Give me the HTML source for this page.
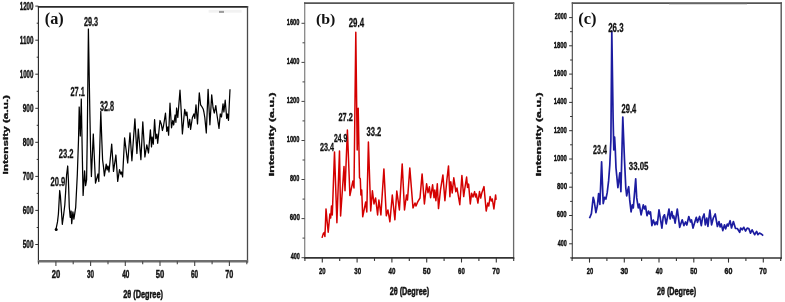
<!DOCTYPE html>
<html><head><meta charset="utf-8"><title>XRD patterns</title><style>
html,body{margin:0;padding:0;background:#fff;}
svg{display:block;}
</style></head><body>
<svg width="785" height="302" viewBox="0 0 785 302">
<rect width="785" height="302" fill="#fff"/>
<line x1="38.4" y1="5.95" x2="38.4" y2="262.55" stroke="#222" stroke-width="1.1"/>
<line x1="37.85" y1="6.8" x2="248.15" y2="6.8" stroke="#2a2a2a" stroke-width="1.7"/>
<line x1="247.5" y1="5.95" x2="247.5" y2="262.55" stroke="#4a4a4a" stroke-width="1.3"/>
<line x1="37.85" y1="261.3" x2="248.15" y2="261.3" stroke="#6e6e6e" stroke-width="2.5"/>
<line x1="38.5" y1="261.3" x2="38.5" y2="264.3" stroke="#444" stroke-width="1.1"/>
<line x1="55.9" y1="261.3" x2="55.9" y2="265.90000000000003" stroke="#444" stroke-width="1.1"/>
<line x1="73.2" y1="261.3" x2="73.2" y2="264.3" stroke="#444" stroke-width="1.1"/>
<line x1="90.6" y1="261.3" x2="90.6" y2="265.90000000000003" stroke="#444" stroke-width="1.1"/>
<line x1="108.0" y1="261.3" x2="108.0" y2="264.3" stroke="#444" stroke-width="1.1"/>
<line x1="125.3" y1="261.3" x2="125.3" y2="265.90000000000003" stroke="#444" stroke-width="1.1"/>
<line x1="142.7" y1="261.3" x2="142.7" y2="264.3" stroke="#444" stroke-width="1.1"/>
<line x1="160.0" y1="261.3" x2="160.0" y2="265.90000000000003" stroke="#444" stroke-width="1.1"/>
<line x1="177.3" y1="261.3" x2="177.3" y2="264.3" stroke="#444" stroke-width="1.1"/>
<line x1="194.7" y1="261.3" x2="194.7" y2="265.90000000000003" stroke="#444" stroke-width="1.1"/>
<line x1="212.1" y1="261.3" x2="212.1" y2="264.3" stroke="#444" stroke-width="1.1"/>
<line x1="229.4" y1="261.3" x2="229.4" y2="265.90000000000003" stroke="#444" stroke-width="1.1"/>
<line x1="246.8" y1="261.3" x2="246.8" y2="264.3" stroke="#444" stroke-width="1.1"/>
<line x1="36.699999999999996" y1="227.5" x2="38.4" y2="227.5" stroke="#333" stroke-width="1"/>
<line x1="36.699999999999996" y1="193.4" x2="38.4" y2="193.4" stroke="#333" stroke-width="1"/>
<line x1="36.699999999999996" y1="159.4" x2="38.4" y2="159.4" stroke="#333" stroke-width="1"/>
<line x1="36.699999999999996" y1="125.3" x2="38.4" y2="125.3" stroke="#333" stroke-width="1"/>
<line x1="36.699999999999996" y1="91.3" x2="38.4" y2="91.3" stroke="#333" stroke-width="1"/>
<line x1="36.699999999999996" y1="57.2" x2="38.4" y2="57.2" stroke="#333" stroke-width="1"/>
<line x1="36.699999999999996" y1="23.2" x2="38.4" y2="23.2" stroke="#333" stroke-width="1"/>
<line x1="35.3" y1="244.5" x2="38.4" y2="244.5" stroke="#333" stroke-width="1"/>
<line x1="35.3" y1="210.4" x2="38.4" y2="210.4" stroke="#333" stroke-width="1"/>
<line x1="35.3" y1="176.4" x2="38.4" y2="176.4" stroke="#333" stroke-width="1"/>
<line x1="35.3" y1="142.3" x2="38.4" y2="142.3" stroke="#333" stroke-width="1"/>
<line x1="35.3" y1="108.3" x2="38.4" y2="108.3" stroke="#333" stroke-width="1"/>
<line x1="35.3" y1="74.2" x2="38.4" y2="74.2" stroke="#333" stroke-width="1"/>
<line x1="35.3" y1="40.2" x2="38.4" y2="40.2" stroke="#333" stroke-width="1"/>
<line x1="35.3" y1="6.1" x2="38.4" y2="6.1" stroke="#333" stroke-width="1"/>
<line x1="304.7" y1="2.2" x2="304.7" y2="258.7" stroke="#888" stroke-width="1.3"/>
<line x1="304.05" y1="3.15" x2="514.25" y2="3.15" stroke="#555" stroke-width="1.9"/>
<line x1="513.6" y1="2.2" x2="513.6" y2="258.7" stroke="#6a6a6a" stroke-width="1.3"/>
<line x1="304.05" y1="257.9" x2="514.25" y2="257.9" stroke="#333" stroke-width="1.6"/>
<line x1="304.9" y1="257.9" x2="304.9" y2="260.9" stroke="#333" stroke-width="1.1"/>
<line x1="322.3" y1="257.9" x2="322.3" y2="262.5" stroke="#333" stroke-width="1.1"/>
<line x1="339.7" y1="257.9" x2="339.7" y2="260.9" stroke="#333" stroke-width="1.1"/>
<line x1="357.1" y1="257.9" x2="357.1" y2="262.5" stroke="#333" stroke-width="1.1"/>
<line x1="374.5" y1="257.9" x2="374.5" y2="260.9" stroke="#333" stroke-width="1.1"/>
<line x1="391.9" y1="257.9" x2="391.9" y2="262.5" stroke="#333" stroke-width="1.1"/>
<line x1="409.3" y1="257.9" x2="409.3" y2="260.9" stroke="#333" stroke-width="1.1"/>
<line x1="426.7" y1="257.9" x2="426.7" y2="262.5" stroke="#333" stroke-width="1.1"/>
<line x1="444.1" y1="257.9" x2="444.1" y2="260.9" stroke="#333" stroke-width="1.1"/>
<line x1="461.5" y1="257.9" x2="461.5" y2="262.5" stroke="#333" stroke-width="1.1"/>
<line x1="478.9" y1="257.9" x2="478.9" y2="260.9" stroke="#333" stroke-width="1.1"/>
<line x1="496.3" y1="257.9" x2="496.3" y2="262.5" stroke="#333" stroke-width="1.1"/>
<line x1="513.7" y1="257.9" x2="513.7" y2="260.9" stroke="#333" stroke-width="1.1"/>
<line x1="302.5" y1="238.1" x2="304.7" y2="238.1" stroke="#444" stroke-width="1"/>
<line x1="302.5" y1="199.1" x2="304.7" y2="199.1" stroke="#444" stroke-width="1"/>
<line x1="302.5" y1="160.0" x2="304.7" y2="160.0" stroke="#444" stroke-width="1"/>
<line x1="302.5" y1="120.9" x2="304.7" y2="120.9" stroke="#444" stroke-width="1"/>
<line x1="302.5" y1="81.9" x2="304.7" y2="81.9" stroke="#444" stroke-width="1"/>
<line x1="302.5" y1="42.8" x2="304.7" y2="42.8" stroke="#444" stroke-width="1"/>
<line x1="301.5" y1="257.7" x2="304.7" y2="257.7" stroke="#444" stroke-width="1"/>
<line x1="301.5" y1="218.6" x2="304.7" y2="218.6" stroke="#444" stroke-width="1"/>
<line x1="301.5" y1="179.5" x2="304.7" y2="179.5" stroke="#444" stroke-width="1"/>
<line x1="301.5" y1="140.5" x2="304.7" y2="140.5" stroke="#444" stroke-width="1"/>
<line x1="301.5" y1="101.4" x2="304.7" y2="101.4" stroke="#444" stroke-width="1"/>
<line x1="301.5" y1="62.4" x2="304.7" y2="62.4" stroke="#444" stroke-width="1"/>
<line x1="301.5" y1="23.3" x2="304.7" y2="23.3" stroke="#444" stroke-width="1"/>
<line x1="572.3" y1="2.1500000000000004" x2="572.3" y2="258.85" stroke="#444" stroke-width="1.1"/>
<line x1="571.75" y1="3.1" x2="781.9000000000001" y2="3.1" stroke="#555" stroke-width="1.9"/>
<line x1="781.2" y1="2.1500000000000004" x2="781.2" y2="258.85" stroke="#555" stroke-width="1.4"/>
<line x1="571.75" y1="258.0" x2="781.9000000000001" y2="258.0" stroke="#333" stroke-width="1.7"/>
<line x1="669" y1="4.1" x2="747" y2="4.1" stroke="#999" stroke-width="0.6"/>
<line x1="572.1" y1="258.0" x2="572.1" y2="261.0" stroke="#333" stroke-width="1.1"/>
<line x1="589.5" y1="258.0" x2="589.5" y2="262.6" stroke="#333" stroke-width="1.1"/>
<line x1="606.9" y1="258.0" x2="606.9" y2="261.0" stroke="#333" stroke-width="1.1"/>
<line x1="624.3" y1="258.0" x2="624.3" y2="262.6" stroke="#333" stroke-width="1.1"/>
<line x1="641.6" y1="258.0" x2="641.6" y2="261.0" stroke="#333" stroke-width="1.1"/>
<line x1="659.0" y1="258.0" x2="659.0" y2="262.6" stroke="#333" stroke-width="1.1"/>
<line x1="676.4" y1="258.0" x2="676.4" y2="261.0" stroke="#333" stroke-width="1.1"/>
<line x1="693.8" y1="258.0" x2="693.8" y2="262.6" stroke="#333" stroke-width="1.1"/>
<line x1="711.2" y1="258.0" x2="711.2" y2="261.0" stroke="#333" stroke-width="1.1"/>
<line x1="728.5" y1="258.0" x2="728.5" y2="262.6" stroke="#333" stroke-width="1.1"/>
<line x1="745.9" y1="258.0" x2="745.9" y2="261.0" stroke="#333" stroke-width="1.1"/>
<line x1="763.3" y1="258.0" x2="763.3" y2="262.6" stroke="#333" stroke-width="1.1"/>
<line x1="780.7" y1="258.0" x2="780.7" y2="261.0" stroke="#333" stroke-width="1.1"/>
<line x1="570.0999999999999" y1="257.9" x2="572.3" y2="257.9" stroke="#333" stroke-width="1"/>
<line x1="570.0999999999999" y1="229.7" x2="572.3" y2="229.7" stroke="#333" stroke-width="1"/>
<line x1="570.0999999999999" y1="201.4" x2="572.3" y2="201.4" stroke="#333" stroke-width="1"/>
<line x1="570.0999999999999" y1="173.1" x2="572.3" y2="173.1" stroke="#333" stroke-width="1"/>
<line x1="570.0999999999999" y1="144.8" x2="572.3" y2="144.8" stroke="#333" stroke-width="1"/>
<line x1="570.0999999999999" y1="116.5" x2="572.3" y2="116.5" stroke="#333" stroke-width="1"/>
<line x1="570.0999999999999" y1="88.3" x2="572.3" y2="88.3" stroke="#333" stroke-width="1"/>
<line x1="570.0999999999999" y1="60.0" x2="572.3" y2="60.0" stroke="#333" stroke-width="1"/>
<line x1="570.0999999999999" y1="31.7" x2="572.3" y2="31.7" stroke="#333" stroke-width="1"/>
<line x1="569.0999999999999" y1="243.8" x2="572.3" y2="243.8" stroke="#333" stroke-width="1"/>
<line x1="569.0999999999999" y1="215.5" x2="572.3" y2="215.5" stroke="#333" stroke-width="1"/>
<line x1="569.0999999999999" y1="187.2" x2="572.3" y2="187.2" stroke="#333" stroke-width="1"/>
<line x1="569.0999999999999" y1="159.0" x2="572.3" y2="159.0" stroke="#333" stroke-width="1"/>
<line x1="569.0999999999999" y1="130.7" x2="572.3" y2="130.7" stroke="#333" stroke-width="1"/>
<line x1="569.0999999999999" y1="102.4" x2="572.3" y2="102.4" stroke="#333" stroke-width="1"/>
<line x1="569.0999999999999" y1="74.1" x2="572.3" y2="74.1" stroke="#333" stroke-width="1"/>
<line x1="569.0999999999999" y1="45.8" x2="572.3" y2="45.8" stroke="#333" stroke-width="1"/>
<line x1="569.0999999999999" y1="17.6" x2="572.3" y2="17.6" stroke="#333" stroke-width="1"/>
<rect x="208.6" y="9.9" width="33" height="2.8" fill="#f2f2f2"/>
<rect x="219" y="10.9" width="5" height="2" fill="#9c9c9c"/>
<polyline points="56.0,229.2 57.5,221.9 58.4,214.0 59.7,190.5 60.4,196.0 61.1,206.0 62.3,224.3 63.6,215.0 64.8,205.0 65.7,190.9 66.6,175.0 67.7,166.0 68.4,180.0 69.3,207.3 70.2,217.3 71.1,211.0 71.7,223.7 72.9,211.9 73.9,219.2 75.7,207.3 77.3,175.0 78.5,140.0 79.2,107.0 80.3,136.0 81.3,99.0 82.2,150.0 83.1,195.5 84.6,170.8 85.6,185.6 86.6,180.0 87.3,135.0 88.4,29.0 89.8,110.0 90.6,150.0 91.4,176.5 93.3,134.0 95.5,183.1 98.0,174.0 98.8,181.5 100.8,111.5 101.8,140.0 102.6,160.0 103.5,166.9 104.4,176.0 106.2,164.1 107.1,170.0 108.0,166.0 109.0,172.0 111.7,144.1 113.5,171.4 115.9,155.0 117.7,181.4 119.5,169.6 120.8,174.2 121.6,172.0 122.6,176.9 124.6,137.8 127.7,163.0 130.0,132.9 131.9,160.8 134.9,118.9 136.9,153.5 138.3,129.0 140.9,159.7 142.8,121.9 144.9,157.0 146.8,144.8 148.5,153.0 150.4,129.8 151.5,146.9 152.2,137.0 153.3,144.2 154.6,119.6 155.8,138.7 156.9,134.2 157.7,143.3 160.0,120.5 161.3,124.1 162.4,130.5 163.5,126.0 165.5,113.2 166.8,131.4 167.9,126.9 168.6,135.1 170.0,103.2 171.5,127.8 172.8,120.5 173.7,125.0 175.1,115.0 175.9,122.3 176.6,108.0 177.8,117.5 180.0,90.2 181.1,109.3 182.4,133.9 184.7,109.3 186.0,115.7 186.9,112.0 188.4,127.5 189.7,119.3 190.6,129.4 192.4,117.5 193.9,113.9 194.8,118.4 196.0,104.8 197.5,123.9 199.3,92.9 200.6,104.8 201.5,106.0 203.3,109.3 203.9,112.0 204.8,117.5 206.3,133.0 208.1,89.3 209.0,107.5 209.9,124.8 211.7,94.8 213.0,107.5 214.3,113.0 215.8,105.7 216.7,113.0 219.0,128.4 220.3,113.9 221.5,117.0 223.0,103.9 223.9,112.0 225.2,100.2 226.7,118.4 227.5,114.0 228.5,120.3 230.0,89.3" fill="none" stroke="#000" stroke-width="1.25" stroke-linejoin="round"/>
<circle cx="56.2" cy="229.6" r="1.5" fill="#000"/>
<polyline points="322.0,237.9 323.3,233.6 324.3,232.5 324.9,236.5 325.4,225.0 326.0,208.9 327.2,222.0 328.2,232.3 329.9,213.9 330.7,218.0 331.5,205.9 332.3,214.9 334.5,151.9 336.9,222.8 339.5,150.9 340.6,216.0 344.0,166.5 345.0,190.8 347.4,130.0 349.9,195.5 352.9,181.0 354.0,188.0 355.8,32.2 357.2,150.0 358.2,108.2 359.5,177.8 360.3,178.8 360.9,195.0 361.7,190.0 362.7,216.8 365.7,202.0 366.8,212.0 368.4,142.0 370.7,210.9 372.4,190.8 374.0,203.9 375.6,198.0 377.6,214.9 378.9,200.0 380.9,214.9 383.9,168.9 386.3,215.8 387.9,209.9 389.9,221.8 392.3,195.0 394.9,219.8 396.8,191.0 399.4,209.9 402.2,163.9 404.5,210.0 406.5,195.0 407.5,200.0 409.8,167.9 413.0,208.0 415.0,203.0 416.0,206.0 417.7,201.9 420.0,198.0 422.1,173.9 424.4,204.0 426.6,183.8 428.0,192.7 429.4,186.8 430.6,197.7 432.6,184.8 434.0,197.7 434.8,190.0 435.9,200.7 437.3,183.8 438.5,208.6 440.5,189.8 442.9,174.9 444.9,200.7 446.9,179.8 448.5,165.9 449.9,196.7 450.8,181.8 452.2,193.0 453.8,177.8 455.8,191.7 457.0,188.0 459.8,204.7 461.9,175.5 463.7,196.6 464.6,190.0 466.6,177.0 467.5,187.4 468.6,184.1 470.3,204.0 471.6,193.2 473.0,197.0 474.6,191.6 475.5,197.0 476.3,194.0 477.9,203.1 479.5,191.6 480.7,198.0 481.8,193.0 484.0,186.6 486.2,211.0 487.8,203.1 488.8,206.0 490.1,196.5 491.4,201.0 492.3,199.0 493.9,208.9 495.6,194.9 496.1,199.8" fill="none" stroke="#d40000" stroke-width="1.5" stroke-linejoin="round"/>
<polyline points="589.5,218.2 591.4,213.6 593.2,197.3 594.2,201.0 595.9,212.7 597.4,205.5 598.6,193.6 599.9,204.5 601.6,161.9 603.2,203.6 604.6,197.3 605.9,199.0 607.2,192.7 608.6,180.9 609.8,165.0 610.9,140.0 611.8,31.0 613.1,118.0 613.8,150.0 614.6,137.0 615.3,150.0 616.0,168.0 617.9,187.7 619.8,172.8 620.9,191.7 622.8,117.0 624.5,160.0 625.8,188.0 626.7,195.9 627.8,190.0 628.7,186.7 629.7,199.9 631.1,211.8 632.3,204.9 633.3,208.0 635.7,178.8 636.7,197.9 638.3,207.8 639.3,204.0 641.1,214.8 643.3,204.9 644.5,209.0 645.5,206.0 647.0,215.7 648.5,211.0 649.5,214.0 650.5,212.0 651.9,225.6 653.3,220.0 654.9,224.8 656.2,222.0 657.3,224.5 659.0,209.9 661.9,228.1 663.2,217.0 664.5,214.8 666.2,223.9 669.0,209.0 670.1,219.0 671.8,211.5 673.0,218.0 673.8,216.0 675.1,223.1 677.3,209.0 679.7,227.3 682.2,219.8 683.9,225.6 685.5,222.0 686.8,225.0 688.8,216.5 690.5,222.0 691.5,220.0 693.0,228.1 696.3,217.3 697.5,222.3 699.6,216.5 701.3,225.6 702.5,218.0 704.1,214.0 705.3,224.8 706.8,218.0 707.9,226.5 709.9,210.2 711.6,224.8 713.3,218.0 715.2,214.0 717.4,226.5 719.0,221.5 720.2,227.0 721.3,224.0 722.8,230.6 724.5,224.8 725.6,228.9 727.3,224.0 728.2,226.0 730.1,220.7 731.5,228.0 733.4,221.5 735.5,228.5 737.3,228.5 739.7,232.3 740.7,228.0 742.2,229.8 743.8,227.3 745.5,231.0 747.2,228.1 748.8,228.5 750.5,233.1 752.1,229.8 754.6,234.7 756.6,231.4 757.9,234.7 759.5,233.0 761.2,233.9 763.2,235.6" fill="none" stroke="#1c1ca0" stroke-width="1.7" stroke-linejoin="round"/>
<text x="44.72" y="24.00" textLength="18.96" lengthAdjust="spacingAndGlyphs" style="font-family:'Liberation Serif',serif;font-weight:bold;font-size:15.67px;fill:#111">(a)</text>
<text x="315.94" y="24.00" textLength="19.42" lengthAdjust="spacingAndGlyphs" style="font-family:'Liberation Serif',serif;font-weight:bold;font-size:13.60px;fill:#111">(b)</text>
<text x="578.30" y="24.00" textLength="18.29" lengthAdjust="spacingAndGlyphs" style="font-family:'Liberation Serif',serif;font-weight:bold;font-size:15.90px;fill:#111">(c)</text>
<text x="84.00" y="26.00" textLength="14.17" lengthAdjust="spacingAndGlyphs" style="font-family:'Liberation Sans',sans-serif;font-weight:bold;font-size:12.78px;fill:#111;stroke:#111;stroke-width:0.3px">29.3</text>
<text x="70.50" y="96.00" textLength="14.32" lengthAdjust="spacingAndGlyphs" style="font-family:'Liberation Sans',sans-serif;font-weight:bold;font-size:12.00px;fill:#111;stroke:#111;stroke-width:0.3px">27.1</text>
<text x="100.00" y="111.00" textLength="14.17" lengthAdjust="spacingAndGlyphs" style="font-family:'Liberation Sans',sans-serif;font-weight:bold;font-size:13.85px;fill:#111;stroke:#111;stroke-width:0.3px">32.8</text>
<text x="58.74" y="158.00" textLength="14.75" lengthAdjust="spacingAndGlyphs" style="font-family:'Liberation Sans',sans-serif;font-weight:bold;font-size:12.04px;fill:#111;stroke:#111;stroke-width:0.3px">23.2</text>
<text x="50.52" y="186.00" textLength="14.75" lengthAdjust="spacingAndGlyphs" style="font-family:'Liberation Sans',sans-serif;font-weight:bold;font-size:12.28px;fill:#111;stroke:#111;stroke-width:0.3px">20.9</text>
<text x="348.74" y="27.00" textLength="15.32" lengthAdjust="spacingAndGlyphs" style="font-family:'Liberation Sans',sans-serif;font-weight:bold;font-size:12.28px;fill:#111;stroke:#111;stroke-width:0.3px">29.4</text>
<text x="338.52" y="121.00" textLength="14.32" lengthAdjust="spacingAndGlyphs" style="font-family:'Liberation Sans',sans-serif;font-weight:bold;font-size:11.28px;fill:#111;stroke:#111;stroke-width:0.3px">27.2</text>
<text x="334.02" y="142.00" textLength="13.16" lengthAdjust="spacingAndGlyphs" style="font-family:'Liberation Sans',sans-serif;font-weight:bold;font-size:10.11px;fill:#111;stroke:#111;stroke-width:0.3px">24.9</text>
<text x="320.02" y="151.00" textLength="14.07" lengthAdjust="spacingAndGlyphs" style="font-family:'Liberation Sans',sans-serif;font-weight:bold;font-size:11.07px;fill:#111;stroke:#111;stroke-width:0.3px">23.4</text>
<text x="366.52" y="136.00" textLength="14.81" lengthAdjust="spacingAndGlyphs" style="font-family:'Liberation Sans',sans-serif;font-weight:bold;font-size:11.85px;fill:#111;stroke:#111;stroke-width:0.3px">33.2</text>
<text x="608.24" y="32.00" textLength="15.27" lengthAdjust="spacingAndGlyphs" style="font-family:'Liberation Sans',sans-serif;font-weight:bold;font-size:11.97px;fill:#111;stroke:#111;stroke-width:0.3px">26.3</text>
<text x="621.52" y="113.00" textLength="14.66" lengthAdjust="spacingAndGlyphs" style="font-family:'Liberation Sans',sans-serif;font-weight:bold;font-size:12.04px;fill:#111;stroke:#111;stroke-width:0.3px">29.4</text>
<text x="593.00" y="154.00" textLength="13.91" lengthAdjust="spacingAndGlyphs" style="font-family:'Liberation Sans',sans-serif;font-weight:bold;font-size:12.04px;fill:#111;stroke:#111;stroke-width:0.3px">23.4</text>
<text x="628.76" y="170.00" textLength="19.72" lengthAdjust="spacingAndGlyphs" style="font-family:'Liberation Sans',sans-serif;font-weight:bold;font-size:11.07px;fill:#111;stroke:#111;stroke-width:0.3px">33.05</text>
<text x="123.14" y="298.00" textLength="39.84" lengthAdjust="spacingAndGlyphs" style="font-family:'Liberation Sans',sans-serif;font-weight:bold;font-size:11.60px;fill:#111;stroke:#111;stroke-width:0.5px">2θ (Degree)</text>
<text x="389.64" y="295.00" textLength="39.54" lengthAdjust="spacingAndGlyphs" style="font-family:'Liberation Sans',sans-serif;font-weight:bold;font-size:11.60px;fill:#111;stroke:#111;stroke-width:0.5px">2θ (Degree)</text>
<text x="657.00" y="295.00" textLength="39.24" lengthAdjust="spacingAndGlyphs" style="font-family:'Liberation Sans',sans-serif;font-weight:bold;font-size:11.60px;fill:#111;stroke:#111;stroke-width:0.5px">2θ (Degree)</text>
<text x="22.78" y="248.00" textLength="10.70" lengthAdjust="spacingAndGlyphs" style="font-family:'Liberation Sans',sans-serif;font-weight:bold;font-size:10.54px;fill:#111;stroke:#111;stroke-width:0.45px">500</text>
<text x="22.78" y="214.00" textLength="10.70" lengthAdjust="spacingAndGlyphs" style="font-family:'Liberation Sans',sans-serif;font-weight:bold;font-size:10.54px;fill:#111;stroke:#111;stroke-width:0.45px">600</text>
<text x="22.78" y="180.00" textLength="10.70" lengthAdjust="spacingAndGlyphs" style="font-family:'Liberation Sans',sans-serif;font-weight:bold;font-size:10.54px;fill:#111;stroke:#111;stroke-width:0.45px">700</text>
<text x="22.78" y="146.00" textLength="10.70" lengthAdjust="spacingAndGlyphs" style="font-family:'Liberation Sans',sans-serif;font-weight:bold;font-size:10.54px;fill:#111;stroke:#111;stroke-width:0.45px">800</text>
<text x="22.78" y="112.00" textLength="10.70" lengthAdjust="spacingAndGlyphs" style="font-family:'Liberation Sans',sans-serif;font-weight:bold;font-size:10.54px;fill:#111;stroke:#111;stroke-width:0.45px">900</text>
<text x="19.78" y="78.00" textLength="13.62" lengthAdjust="spacingAndGlyphs" style="font-family:'Liberation Sans',sans-serif;font-weight:bold;font-size:10.54px;fill:#111;stroke:#111;stroke-width:0.45px">1000</text>
<text x="19.78" y="44.00" textLength="13.62" lengthAdjust="spacingAndGlyphs" style="font-family:'Liberation Sans',sans-serif;font-weight:bold;font-size:10.54px;fill:#111;stroke:#111;stroke-width:0.45px">1100</text>
<text x="19.78" y="10.00" textLength="13.62" lengthAdjust="spacingAndGlyphs" style="font-family:'Liberation Sans',sans-serif;font-weight:bold;font-size:10.54px;fill:#111;stroke:#111;stroke-width:0.45px">1200</text>
<text x="290.72" y="259.00" textLength="9.08" lengthAdjust="spacingAndGlyphs" style="font-family:'Liberation Sans',sans-serif;font-weight:bold;font-size:9.34px;fill:#111;stroke:#111;stroke-width:0.45px">400</text>
<text x="289.72" y="220.00" textLength="10.21" lengthAdjust="spacingAndGlyphs" style="font-family:'Liberation Sans',sans-serif;font-weight:bold;font-size:9.34px;fill:#111;stroke:#111;stroke-width:0.45px">600</text>
<text x="290.02" y="181.00" textLength="9.19" lengthAdjust="spacingAndGlyphs" style="font-family:'Liberation Sans',sans-serif;font-weight:bold;font-size:9.34px;fill:#111;stroke:#111;stroke-width:0.45px">800</text>
<text x="286.76" y="142.00" textLength="12.51" lengthAdjust="spacingAndGlyphs" style="font-family:'Liberation Sans',sans-serif;font-weight:bold;font-size:9.34px;fill:#111;stroke:#111;stroke-width:0.45px">1000</text>
<text x="286.76" y="103.00" textLength="12.51" lengthAdjust="spacingAndGlyphs" style="font-family:'Liberation Sans',sans-serif;font-weight:bold;font-size:9.34px;fill:#111;stroke:#111;stroke-width:0.45px">1200</text>
<text x="286.76" y="64.00" textLength="12.51" lengthAdjust="spacingAndGlyphs" style="font-family:'Liberation Sans',sans-serif;font-weight:bold;font-size:9.34px;fill:#111;stroke:#111;stroke-width:0.45px">1400</text>
<text x="286.76" y="25.00" textLength="12.51" lengthAdjust="spacingAndGlyphs" style="font-family:'Liberation Sans',sans-serif;font-weight:bold;font-size:9.34px;fill:#111;stroke:#111;stroke-width:0.45px">1600</text>
<text x="557.72" y="246.00" textLength="8.96" lengthAdjust="spacingAndGlyphs" style="font-family:'Liberation Sans',sans-serif;font-weight:bold;font-size:9.34px;fill:#111;stroke:#111;stroke-width:0.45px">400</text>
<text x="556.72" y="217.00" textLength="9.96" lengthAdjust="spacingAndGlyphs" style="font-family:'Liberation Sans',sans-serif;font-weight:bold;font-size:9.34px;fill:#111;stroke:#111;stroke-width:0.45px">600</text>
<text x="557.02" y="189.00" textLength="10.08" lengthAdjust="spacingAndGlyphs" style="font-family:'Liberation Sans',sans-serif;font-weight:bold;font-size:9.34px;fill:#111;stroke:#111;stroke-width:0.45px">800</text>
<text x="553.74" y="161.00" textLength="13.13" lengthAdjust="spacingAndGlyphs" style="font-family:'Liberation Sans',sans-serif;font-weight:bold;font-size:9.34px;fill:#111;stroke:#111;stroke-width:0.45px">1000</text>
<text x="553.74" y="133.00" textLength="13.13" lengthAdjust="spacingAndGlyphs" style="font-family:'Liberation Sans',sans-serif;font-weight:bold;font-size:9.34px;fill:#111;stroke:#111;stroke-width:0.45px">1200</text>
<text x="553.74" y="104.00" textLength="13.13" lengthAdjust="spacingAndGlyphs" style="font-family:'Liberation Sans',sans-serif;font-weight:bold;font-size:9.34px;fill:#111;stroke:#111;stroke-width:0.45px">1400</text>
<text x="553.74" y="76.00" textLength="13.13" lengthAdjust="spacingAndGlyphs" style="font-family:'Liberation Sans',sans-serif;font-weight:bold;font-size:9.34px;fill:#111;stroke:#111;stroke-width:0.45px">1600</text>
<text x="553.74" y="48.00" textLength="13.13" lengthAdjust="spacingAndGlyphs" style="font-family:'Liberation Sans',sans-serif;font-weight:bold;font-size:9.34px;fill:#111;stroke:#111;stroke-width:0.45px">1800</text>
<text x="554.74" y="19.00" textLength="12.03" lengthAdjust="spacingAndGlyphs" style="font-family:'Liberation Sans',sans-serif;font-weight:bold;font-size:9.34px;fill:#111;stroke:#111;stroke-width:0.45px">2000</text>
<text x="51.76" y="278.00" textLength="8.52" lengthAdjust="spacingAndGlyphs" style="font-family:'Liberation Sans',sans-serif;font-weight:bold;font-size:11.21px;fill:#111;stroke:#111;stroke-width:0.45px">20</text>
<text x="87.00" y="278.00" textLength="7.01" lengthAdjust="spacingAndGlyphs" style="font-family:'Liberation Sans',sans-serif;font-weight:bold;font-size:10.54px;fill:#111;stroke:#111;stroke-width:0.45px">30</text>
<text x="122.24" y="278.00" textLength="7.15" lengthAdjust="spacingAndGlyphs" style="font-family:'Liberation Sans',sans-serif;font-weight:bold;font-size:10.54px;fill:#111;stroke:#111;stroke-width:0.45px">40</text>
<text x="155.78" y="278.00" textLength="8.52" lengthAdjust="spacingAndGlyphs" style="font-family:'Liberation Sans',sans-serif;font-weight:bold;font-size:10.54px;fill:#111;stroke:#111;stroke-width:0.45px">50</text>
<text x="191.02" y="278.00" textLength="7.15" lengthAdjust="spacingAndGlyphs" style="font-family:'Liberation Sans',sans-serif;font-weight:bold;font-size:10.54px;fill:#111;stroke:#111;stroke-width:0.45px">60</text>
<text x="225.26" y="278.00" textLength="8.01" lengthAdjust="spacingAndGlyphs" style="font-family:'Liberation Sans',sans-serif;font-weight:bold;font-size:10.54px;fill:#111;stroke:#111;stroke-width:0.45px">70</text>
<text x="318.98" y="274.00" textLength="6.54" lengthAdjust="spacingAndGlyphs" style="font-family:'Liberation Sans',sans-serif;font-weight:bold;font-size:9.90px;fill:#111;stroke:#111;stroke-width:0.45px">20</text>
<text x="354.24" y="274.00" textLength="6.82" lengthAdjust="spacingAndGlyphs" style="font-family:'Liberation Sans',sans-serif;font-weight:bold;font-size:9.90px;fill:#111;stroke:#111;stroke-width:0.45px">30</text>
<text x="388.50" y="274.00" textLength="6.82" lengthAdjust="spacingAndGlyphs" style="font-family:'Liberation Sans',sans-serif;font-weight:bold;font-size:9.90px;fill:#111;stroke:#111;stroke-width:0.45px">40</text>
<text x="422.76" y="274.00" textLength="7.79" lengthAdjust="spacingAndGlyphs" style="font-family:'Liberation Sans',sans-serif;font-weight:bold;font-size:9.90px;fill:#111;stroke:#111;stroke-width:0.45px">50</text>
<text x="458.02" y="274.00" textLength="6.73" lengthAdjust="spacingAndGlyphs" style="font-family:'Liberation Sans',sans-serif;font-weight:bold;font-size:9.90px;fill:#111;stroke:#111;stroke-width:0.45px">60</text>
<text x="492.28" y="274.00" textLength="7.63" lengthAdjust="spacingAndGlyphs" style="font-family:'Liberation Sans',sans-serif;font-weight:bold;font-size:9.90px;fill:#111;stroke:#111;stroke-width:0.45px">70</text>
<text x="586.72" y="274.00" textLength="6.41" lengthAdjust="spacingAndGlyphs" style="font-family:'Liberation Sans',sans-serif;font-weight:bold;font-size:9.90px;fill:#111;stroke:#111;stroke-width:0.45px">20</text>
<text x="620.41" y="274.00" textLength="7.79" lengthAdjust="spacingAndGlyphs" style="font-family:'Liberation Sans',sans-serif;font-weight:bold;font-size:9.90px;fill:#111;stroke:#111;stroke-width:0.45px">30</text>
<text x="655.80" y="274.00" textLength="6.68" lengthAdjust="spacingAndGlyphs" style="font-family:'Liberation Sans',sans-serif;font-weight:bold;font-size:9.90px;fill:#111;stroke:#111;stroke-width:0.45px">40</text>
<text x="690.20" y="274.00" textLength="6.96" lengthAdjust="spacingAndGlyphs" style="font-family:'Liberation Sans',sans-serif;font-weight:bold;font-size:9.90px;fill:#111;stroke:#111;stroke-width:0.45px">50</text>
<text x="724.59" y="274.00" textLength="7.85" lengthAdjust="spacingAndGlyphs" style="font-family:'Liberation Sans',sans-serif;font-weight:bold;font-size:9.90px;fill:#111;stroke:#111;stroke-width:0.45px">60</text>
<text x="759.28" y="274.00" textLength="7.63" lengthAdjust="spacingAndGlyphs" style="font-family:'Liberation Sans',sans-serif;font-weight:bold;font-size:9.90px;fill:#111;stroke:#111;stroke-width:0.45px">70</text>
<text transform="translate(8.00,134.76) rotate(-90)" x="0" y="0" text-anchor="middle" textLength="79.45" lengthAdjust="spacingAndGlyphs" style="font-family:'Liberation Sans',sans-serif;font-weight:bold;font-size:7.54px;fill:#111;stroke:#111;stroke-width:0.3px">Intensity (a.u.)</text>
<text transform="translate(274.00,134.38) rotate(-90)" x="0" y="0" text-anchor="middle" textLength="83.76" lengthAdjust="spacingAndGlyphs" style="font-family:'Liberation Sans',sans-serif;font-weight:bold;font-size:6.44px;fill:#111;stroke:#111;stroke-width:0.3px">Intensity (a.u.)</text>
<text transform="translate(541.00,134.38) rotate(-90)" x="0" y="0" text-anchor="middle" textLength="83.76" lengthAdjust="spacingAndGlyphs" style="font-family:'Liberation Sans',sans-serif;font-weight:bold;font-size:6.44px;fill:#111;stroke:#111;stroke-width:0.3px">Intensity (a.u.)</text>
</svg>
</body></html>
